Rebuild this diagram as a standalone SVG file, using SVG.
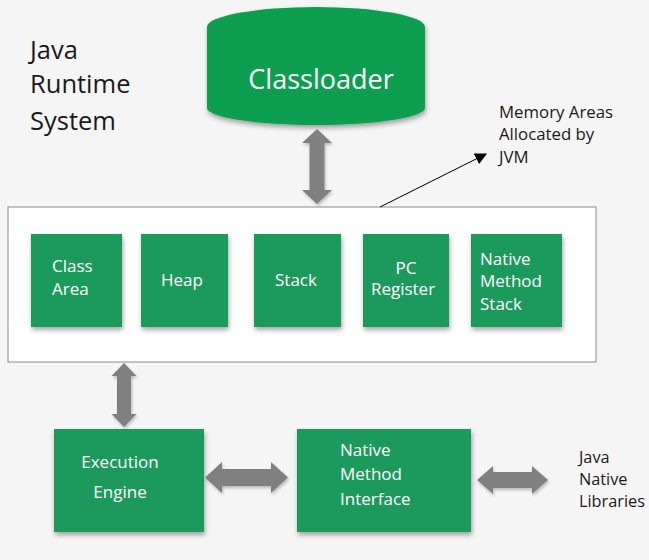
<svg xmlns="http://www.w3.org/2000/svg" width="649" height="560" viewBox="0 0 649 560">
  <defs>
    <filter id="sh" x="-20%" y="-20%" width="140%" height="140%">
      <feDropShadow dx="1" dy="3" stdDeviation="2.5" flood-color="#000" flood-opacity="0.35"/>
    </filter>
    <filter id="ash" x="-30%" y="-30%" width="160%" height="160%">
      <feDropShadow dx="1" dy="2" stdDeviation="1.5" flood-color="#000" flood-opacity="0.25"/>
    </filter>
    <marker id="tip" viewBox="0 0 10 10" refX="9" refY="5" markerWidth="12" markerHeight="12" markerUnits="userSpaceOnUse" orient="auto">
      <path d="M0,0 L10,5 L0,10 Z" fill="#000"/>
    </marker>
  </defs>
  <style>
    .bg { fill: #f5f5f5; }
    .box { fill: #1b9a5b; filter: url(#sh); }
    .cyl { fill: #0b9f50; filter: url(#sh); }
    .wt { fill: #ffffff; font-family: "Open Sans", "Liberation Sans", sans-serif; font-size: 17px; }
    .lbl { fill: #1a1a1a; font-family: "Open Sans", "Liberation Sans", sans-serif; font-size: 16.8px; }
    .lib { fill: #1a1a1a; font-family: "Open Sans", "Liberation Sans", sans-serif; font-size: 16.3px; }
    .big { fill: #1a1a1a; font-family: "Open Sans", "Liberation Sans", sans-serif; font-size: 25.5px; }
    .arr { fill: #808080; filter: url(#ash); }
    .mid { text-anchor: middle; }
  </style>
  <rect class="bg" x="0" y="0" width="649" height="560"/>

  <g id="title">
    <text class="big" x="30" y="59">Java</text>
    <text class="big" x="30" y="93">Runtime</text>
    <text class="big" x="30" y="130">System</text>
  </g>

  <g id="classloader">
    <path class="cyl" d="M207,27 A109,20 0 0 1 425,27 L425,108 A109,17 0 0 1 207,108 Z"/>
    <text class="wt mid" x="321" y="89" style="font-size:27px">Classloader</text>
  </g>

  <g id="memory-label">
    <text class="lbl" x="499" y="118">Memory Areas</text>
    <text class="lbl" x="499" y="140">Allocated by</text>
    <text class="lbl" x="499" y="163">JVM</text>
  </g>

  <g id="runtime-areas">
    <rect x="8" y="207" width="588" height="155" fill="#ffffff" stroke="#8a8a8a" stroke-width="1"/>
  </g>

  <g id="class-area">
    <rect class="box" x="31" y="234" width="91" height="93"/>
    <text class="wt" x="52" y="272">Class</text>
    <text class="wt" x="52" y="295">Area</text>
  </g>
  <g id="heap">
    <rect class="box" x="141" y="234" width="87" height="93"/>
    <text class="wt mid" x="182" y="286">Heap</text>
  </g>
  <g id="stack">
    <rect class="box" x="254" y="234" width="87" height="93"/>
    <text class="wt mid" x="296" y="286">Stack</text>
  </g>
  <g id="pc-register">
    <rect class="box" x="363" y="234" width="86" height="93"/>
    <text class="wt mid" x="406" y="274">PC</text>
    <text class="wt mid" x="403" y="295">Register</text>
  </g>
  <g id="native-method-stack">
    <rect class="box" x="471" y="234" width="91" height="93"/>
    <text class="wt" x="480" y="265">Native</text>
    <text class="wt" x="480" y="287">Method</text>
    <text class="wt" x="480" y="310">Stack</text>
  </g>

  <g id="execution-engine">
    <rect class="box" x="54" y="429" width="150" height="103"/>
    <text class="wt mid" x="120" y="468">Execution</text>
    <text class="wt mid" x="120" y="498">Engine</text>
  </g>
  <g id="native-method-interface">
    <rect class="box" x="297" y="429" width="174" height="103"/>
    <text class="wt" x="340" y="456">Native</text>
    <text class="wt" x="340" y="480">Method</text>
    <text class="wt" x="340" y="505">Interface</text>
  </g>

  <g id="native-libraries">
    <text class="lib" x="579" y="463">Java</text>
    <text class="lib" x="579" y="485">Native</text>
    <text class="lib" x="579" y="507">Libraries</text>
  </g>

  <g id="connectors">
    <polygon class="arr" points="317,129 332,143 324.5,143 324.5,190 332,190 317,204 302,190 309.5,190 309.5,143 302,143"/>
    <polygon class="arr" points="124,363 136.5,376 131,376 131,414 136.5,414 124,427 111.5,414 117,414 117,376 111.5,376"/>
    <polygon class="arr" points="205,477.5 222,462 222,469 271,469 271,462 288,477.5 271,493 271,486 222,486 222,493"/>
    <polygon class="arr" points="477,480 493,466 493,472 532,472 532,466 548,480 532,494 532,488 493,488 493,494"/>
    <line x1="380" y1="207" x2="486" y2="154" stroke="#000" stroke-width="1" marker-end="url(#tip)"/>
  </g>
</svg>
